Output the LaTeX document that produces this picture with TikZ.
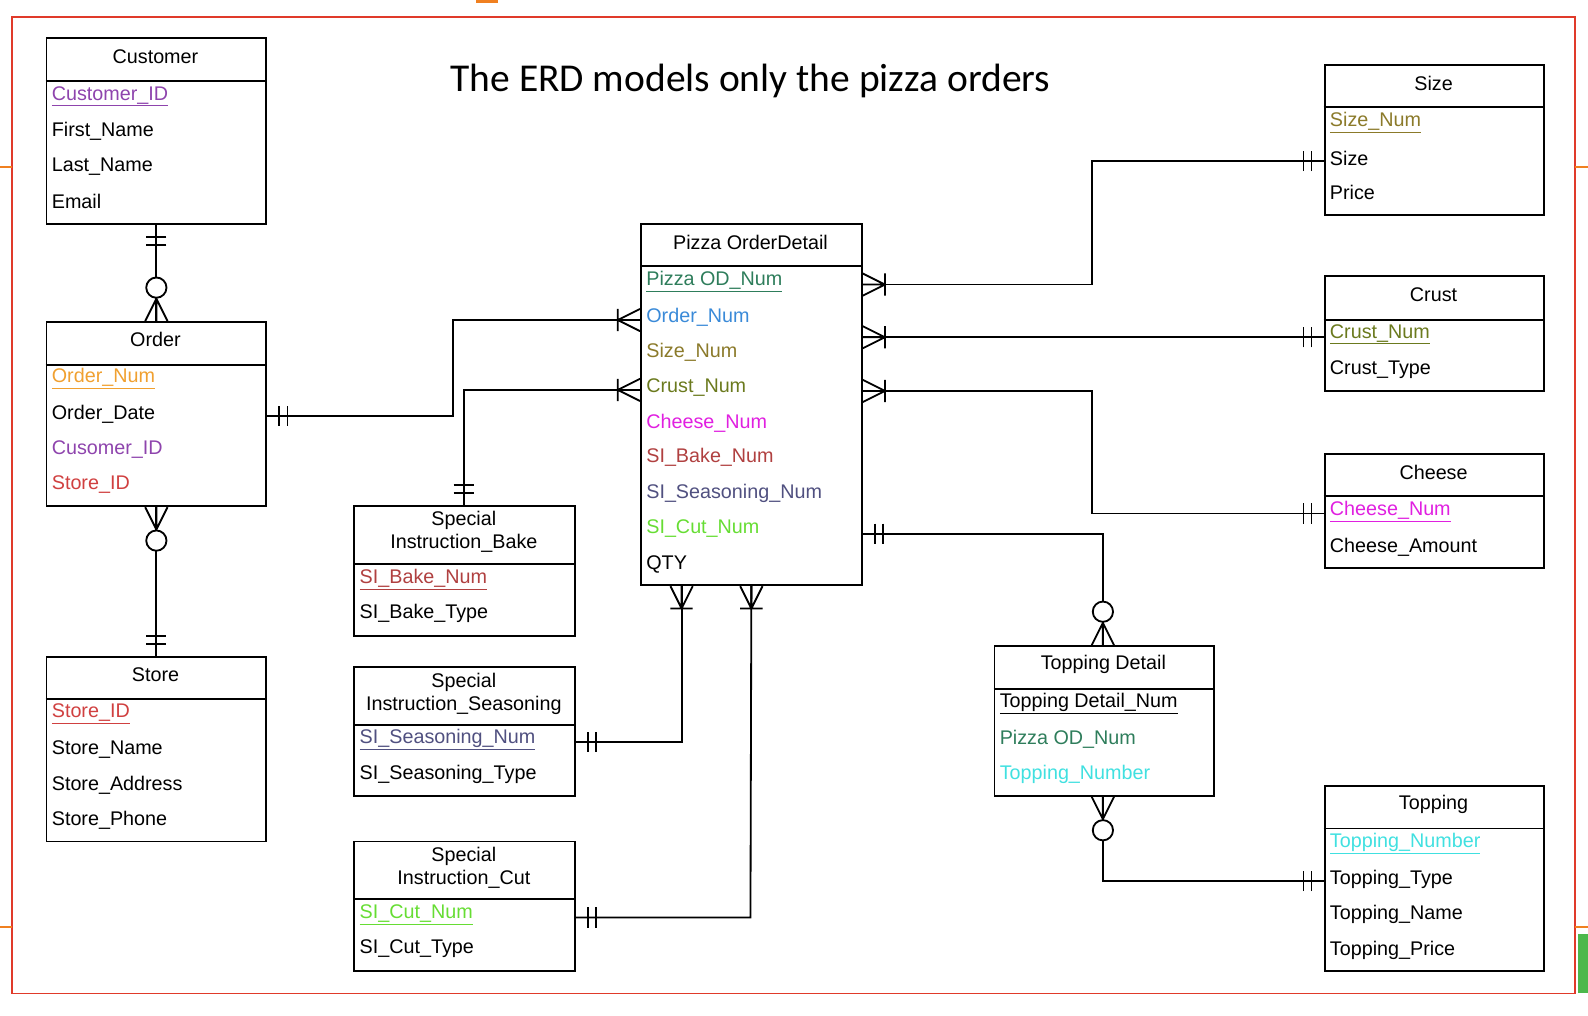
\documentclass[tikz,border=0pt]{standalone}
\usepackage{fontspec}
\setmainfont{Liberation Sans}
\newfontfamily\titlefont{Carlito}
\newcommand{\attrfont}{\fontsize{19.5}{23}\selectfont}

\begin{document}
\begin{tikzpicture}[x=1pt,y=-1pt]
\tikzset{
  ent/.style={draw, line width=1.8pt, anchor=north west, inner sep=0},
  attr/.style={anchor=west, inner sep=0, font=\attrfont},
  hdr/.style={font=\attrfont, align=center, inner sep=0},
  rel/.style={line width=1.8pt},
  pics/one/.style={code={\draw[rel] (12,-10)--(12,10) (20,-10)--(20,10);}},
  pics/many/.style={code={\draw[rel] (0,-11)--(22,0)--(0,11) (0,0)--(22,0) (22,-11)--(22,11);}},
  pics/zmany/.style={code={\draw[rel] (0,-11)--(22,0)--(0,11) (0,0)--(22,0); \draw[rel,fill=white] (33,0) circle (10);}}
}
\definecolor{cpurple}{HTML}{8E44AD}
\definecolor{corange}{HTML}{F0A030}
\definecolor{cred}{HTML}{D04040}
\definecolor{cgreen}{HTML}{2E7D5B}
\definecolor{cblue}{HTML}{3A8AD8}
\definecolor{csize}{HTML}{8B7A2A}
\definecolor{ccrust}{HTML}{6B7A1E}
\definecolor{ccheese}{HTML}{E020E0}
\definecolor{cbake}{HTML}{B04040}
\definecolor{cseas}{HTML}{505080}
\definecolor{ccut}{HTML}{66DD33}
\definecolor{ctop}{HTML}{40E0E0}
\definecolor{frame}{HTML}{E03A2A}
\definecolor{slide}{HTML}{F08020}

\useasboundingbox (0,0) rectangle (1568,1003);
\draw[frame, line width=1.5pt] (12,17) rectangle (1555,981);
% slide leftovers
\draw[slide, line width=2pt] (0,165)--(12,165) (0,915)--(12,915) (1555,165)--(1568,165) (1555,915)--(1568,915);
\fill[slide] (470,0) rectangle (492,3);
\fill[green!60!black!70] (1558,922) rectangle (1568,980);

\node[font=\titlefont\fontsize{39}{42}\selectfont] (title) at (741,80) {The ERD models only the pizza orders};

% Customer
\node[ent, minimum width=217, minimum height=183] (cust) at (45,37) {};
\draw[line width=1.8pt] (45,80)--(262,80);
\node[hdr] (custh) at (153.5,56) {Customer};
\node[attr, cpurple] (cust1) at (51,95) {\underline{Customer\_ID}};
\node[attr] (cust2) at (51,130) {First\_Name};
\node[attr] (cust3) at (51,165) {Last\_Name};
\node[attr] (cust4) at (51,199) {Email};

% Order
\node[ent, minimum width=217, minimum height=182] (ord) at (45,317) {};
\draw[line width=1.8pt] (45,360)--(262,360);
\node[hdr] (ordh) at (153.5,335) {Order};
\node[attr, corange] (ord1) at (51,374) {\underline{Order\_Num}};
\node[attr] (ord2) at (51,409) {Order\_Date};
\node[attr, cpurple] (ord3) at (51,444) {Cusomer\_ID};
\node[attr, cred] (ord4) at (51,478) {Store\_ID};

% Store
\node[ent, minimum width=217, minimum height=182] (sto) at (45,648) {};
\draw[line width=1.8pt] (45,690)--(262,690);
\node[hdr] (stoh) at (153.5,666) {Store};
\node[attr, cred] (sto1) at (51,705) {\underline{Store\_ID}};
\node[attr] (sto2) at (51,740) {Store\_Name};
\node[attr] (sto3) at (51,775) {Store\_Address};
\node[attr] (sto4) at (51,810) {Store\_Phone};

% Special instructions
\node[ent, minimum width=218, minimum height=128] (bake) at (349,499) {};
\draw[line width=1.8pt] (349,557)--(567,557);
\node[hdr] (bakeh) at (458,525) {Special\\Instruction\_Bake};
\node[attr, cbake] (bake1) at (355,572) {\underline{SI\_Bake\_Num}};
\node[attr] (bake2) at (355,606) {SI\_Bake\_Type};

\node[ent, minimum width=218, minimum height=127] (seas) at (349,658) {};
\draw[line width=1.8pt] (349,716)--(567,716);
\node[hdr] (seash) at (458,685) {Special\\Instruction\_Seasoning};
\node[attr, cseas] (seas1) at (355,730) {\underline{SI\_Seasoning\_Num}};
\node[attr] (seas2) at (355,765) {SI\_Seasoning\_Type};

\node[ent, minimum width=218, minimum height=128] (cut) at (349,830) {};
\draw[line width=1.8pt] (349,888)--(567,888);
\node[hdr] (cuth) at (458,857) {Special\\Instruction\_Cut};
\node[attr, ccut] (cut1) at (355,903) {\underline{SI\_Cut\_Num}};
\node[attr] (cut2) at (355,937) {SI\_Cut\_Type};

% Pizza OrderDetail
\node[ent, minimum width=218, minimum height=357] (pod) at (632,220) {};
\draw[line width=1.8pt] (632,263)--(850,263);
\node[hdr] (podh) at (741,239) {Pizza OrderDetail};
\node[attr, cgreen] (pod1) at (638,278) {\underline{Pizza OD\_Num}};
\node[attr, cblue] (pod2) at (638,313) {Order\_Num};
\node[attr, csize] (pod3) at (638,348) {Size\_Num};
\node[attr, ccrust] (pod4) at (638,383) {Crust\_Num};
\node[attr, ccheese] (pod5) at (638,418) {Cheese\_Num};
\node[attr, cbake] (pod6) at (638,452) {SI\_Bake\_Num};
\node[attr, cseas] (pod7) at (638,487) {SI\_Seasoning\_Num};
\node[attr, ccut] (pod8) at (638,522) {SI\_Cut\_Num};
\node[attr] (pod9) at (638,557) {QTY};

% Size, Crust, Cheese
\node[ent, minimum width=217, minimum height=148] (size) at (1307,63) {};
\draw[line width=1.8pt] (1307,106)--(1524,106);
\node[hdr] (sizeh) at (1415.5,82) {Size};
\node[attr, csize] (size1) at (1313,121) {\underline{Size\_Num}};
\node[attr] (size2) at (1313,156) {Size};
\node[attr] (size3) at (1313,190) {Price};

\node[ent, minimum width=217, minimum height=113] (crust) at (1307,272) {};
\draw[line width=1.8pt] (1307,316)--(1524,316);
\node[hdr] (crusth) at (1415.5,291) {Crust};
\node[attr, ccrust] (crust1) at (1313,330) {\underline{Crust\_Num}};
\node[attr] (crust2) at (1313,365) {Crust\_Type};

\node[ent, minimum width=217, minimum height=113] (chee) at (1307,447) {};
\draw[line width=1.8pt] (1307,490)--(1524,490);
\node[hdr] (cheeh) at (1415.5,466) {Cheese};
\node[attr, ccheese] (chee1) at (1313,505) {\underline{Cheese\_Num}};
\node[attr] (chee2) at (1313,540) {Cheese\_Amount};

% Topping Detail, Topping
\node[ent, minimum width=217, minimum height=148] (td) at (981,637) {};
\draw[line width=1.8pt] (981,680)--(1198,680);
\node[hdr] (tdh) at (1089.5,656) {Topping Detail};
\node[attr] (td1) at (987,695) {\underline{Topping Detail\_Num}};
\node[attr, cgreen] (td2) at (987,730) {Pizza OD\_Num};
\node[attr, ctop] (td3) at (987,765) {Topping\_Number};

\node[ent, minimum width=217, minimum height=183] (top) at (1307,775) {};
\draw[line width=1.8pt] (1307,818)--(1524,818);
\node[hdr] (toph) at (1415.5,794) {Topping};
\node[attr, ctop] (top1) at (1313,833) {\underline{Topping\_Number}};
\node[attr] (top2) at (1313,868) {Topping\_Type};
\node[attr] (top3) at (1313,903) {Topping\_Name};
\node[attr] (top4) at (1313,938) {Topping\_Price};

% relationships
\draw[rel] (cust.south) -- (ord.north);
\pic[rotate=-90] at (cust.south) {one};
\pic[rotate=90] at (ord.north) {zmany};

\draw[rel] (ord.south) -- (sto.north);
\pic[rotate=-90] at (ord.south) {zmany};
\pic[rotate=90] at (sto.north) {one};

\draw[rel] (ord.east |- 0,411) -- (447,411) -- (447,316) -- (pod.west |- 0,316);
\pic at (ord.east |- 0,411) {one};
\pic[rotate=180] at (pod.west |- 0,316) {many};

\draw[rel] (bake.north -| 458,0) -- (458,385) -- (pod.west |- 0,385);
\pic[rotate=90] at (458,499) {one};
\pic[rotate=180] at (pod.west |- 0,385) {many};

\draw[rel] (seas.east |- 0,733) -- (673,733) -- (pod.south -| 673,0);
\pic at (seas.east |- 0,733) {one};
\pic[rotate=-90] at (pod.south -| 673,0) {many};

\draw[rel] (cut.east |- 0,906) -- (741,906) -- (pod.south);
\pic at (cut.east |- 0,906) {one};
\pic[rotate=-90] at (pod.south) {many};

\draw[rel] (pod.east |- 0,281) -- (1078,281) -- (1078,159) -- (size.west |- 0,159);
\pic at (pod.east |- 0,281) {many};
\pic[rotate=180] at (size.west |- 0,159) {one};

\draw[rel] (pod.east |- 0,333) -- (crust.west |- 0,333);
\pic at (pod.east |- 0,333) {many};
\pic[rotate=180] at (crust.west |- 0,333) {one};

\draw[rel] (pod.east |- 0,386) -- (1078,386) -- (1078,507) -- (chee.west |- 0,507);
\pic at (pod.east |- 0,386) {many};
\pic[rotate=180] at (chee.west |- 0,507) {one};

\draw[rel] (pod.east |- 0,527) -- (1089,527) -- (td.north -| 1089,0);
\pic at (pod.east |- 0,527) {one};
\pic[rotate=90] at (td.north -| 1089,0) {zmany};

\draw[rel] (td.south -| 1089,0) -- (1089,870) -- (top.west |- 0,870);
\pic[rotate=-90] at (td.south -| 1089,0) {zmany};
\pic[rotate=180] at (top.west |- 0,870) {one};
\end{tikzpicture}
\end{document}
